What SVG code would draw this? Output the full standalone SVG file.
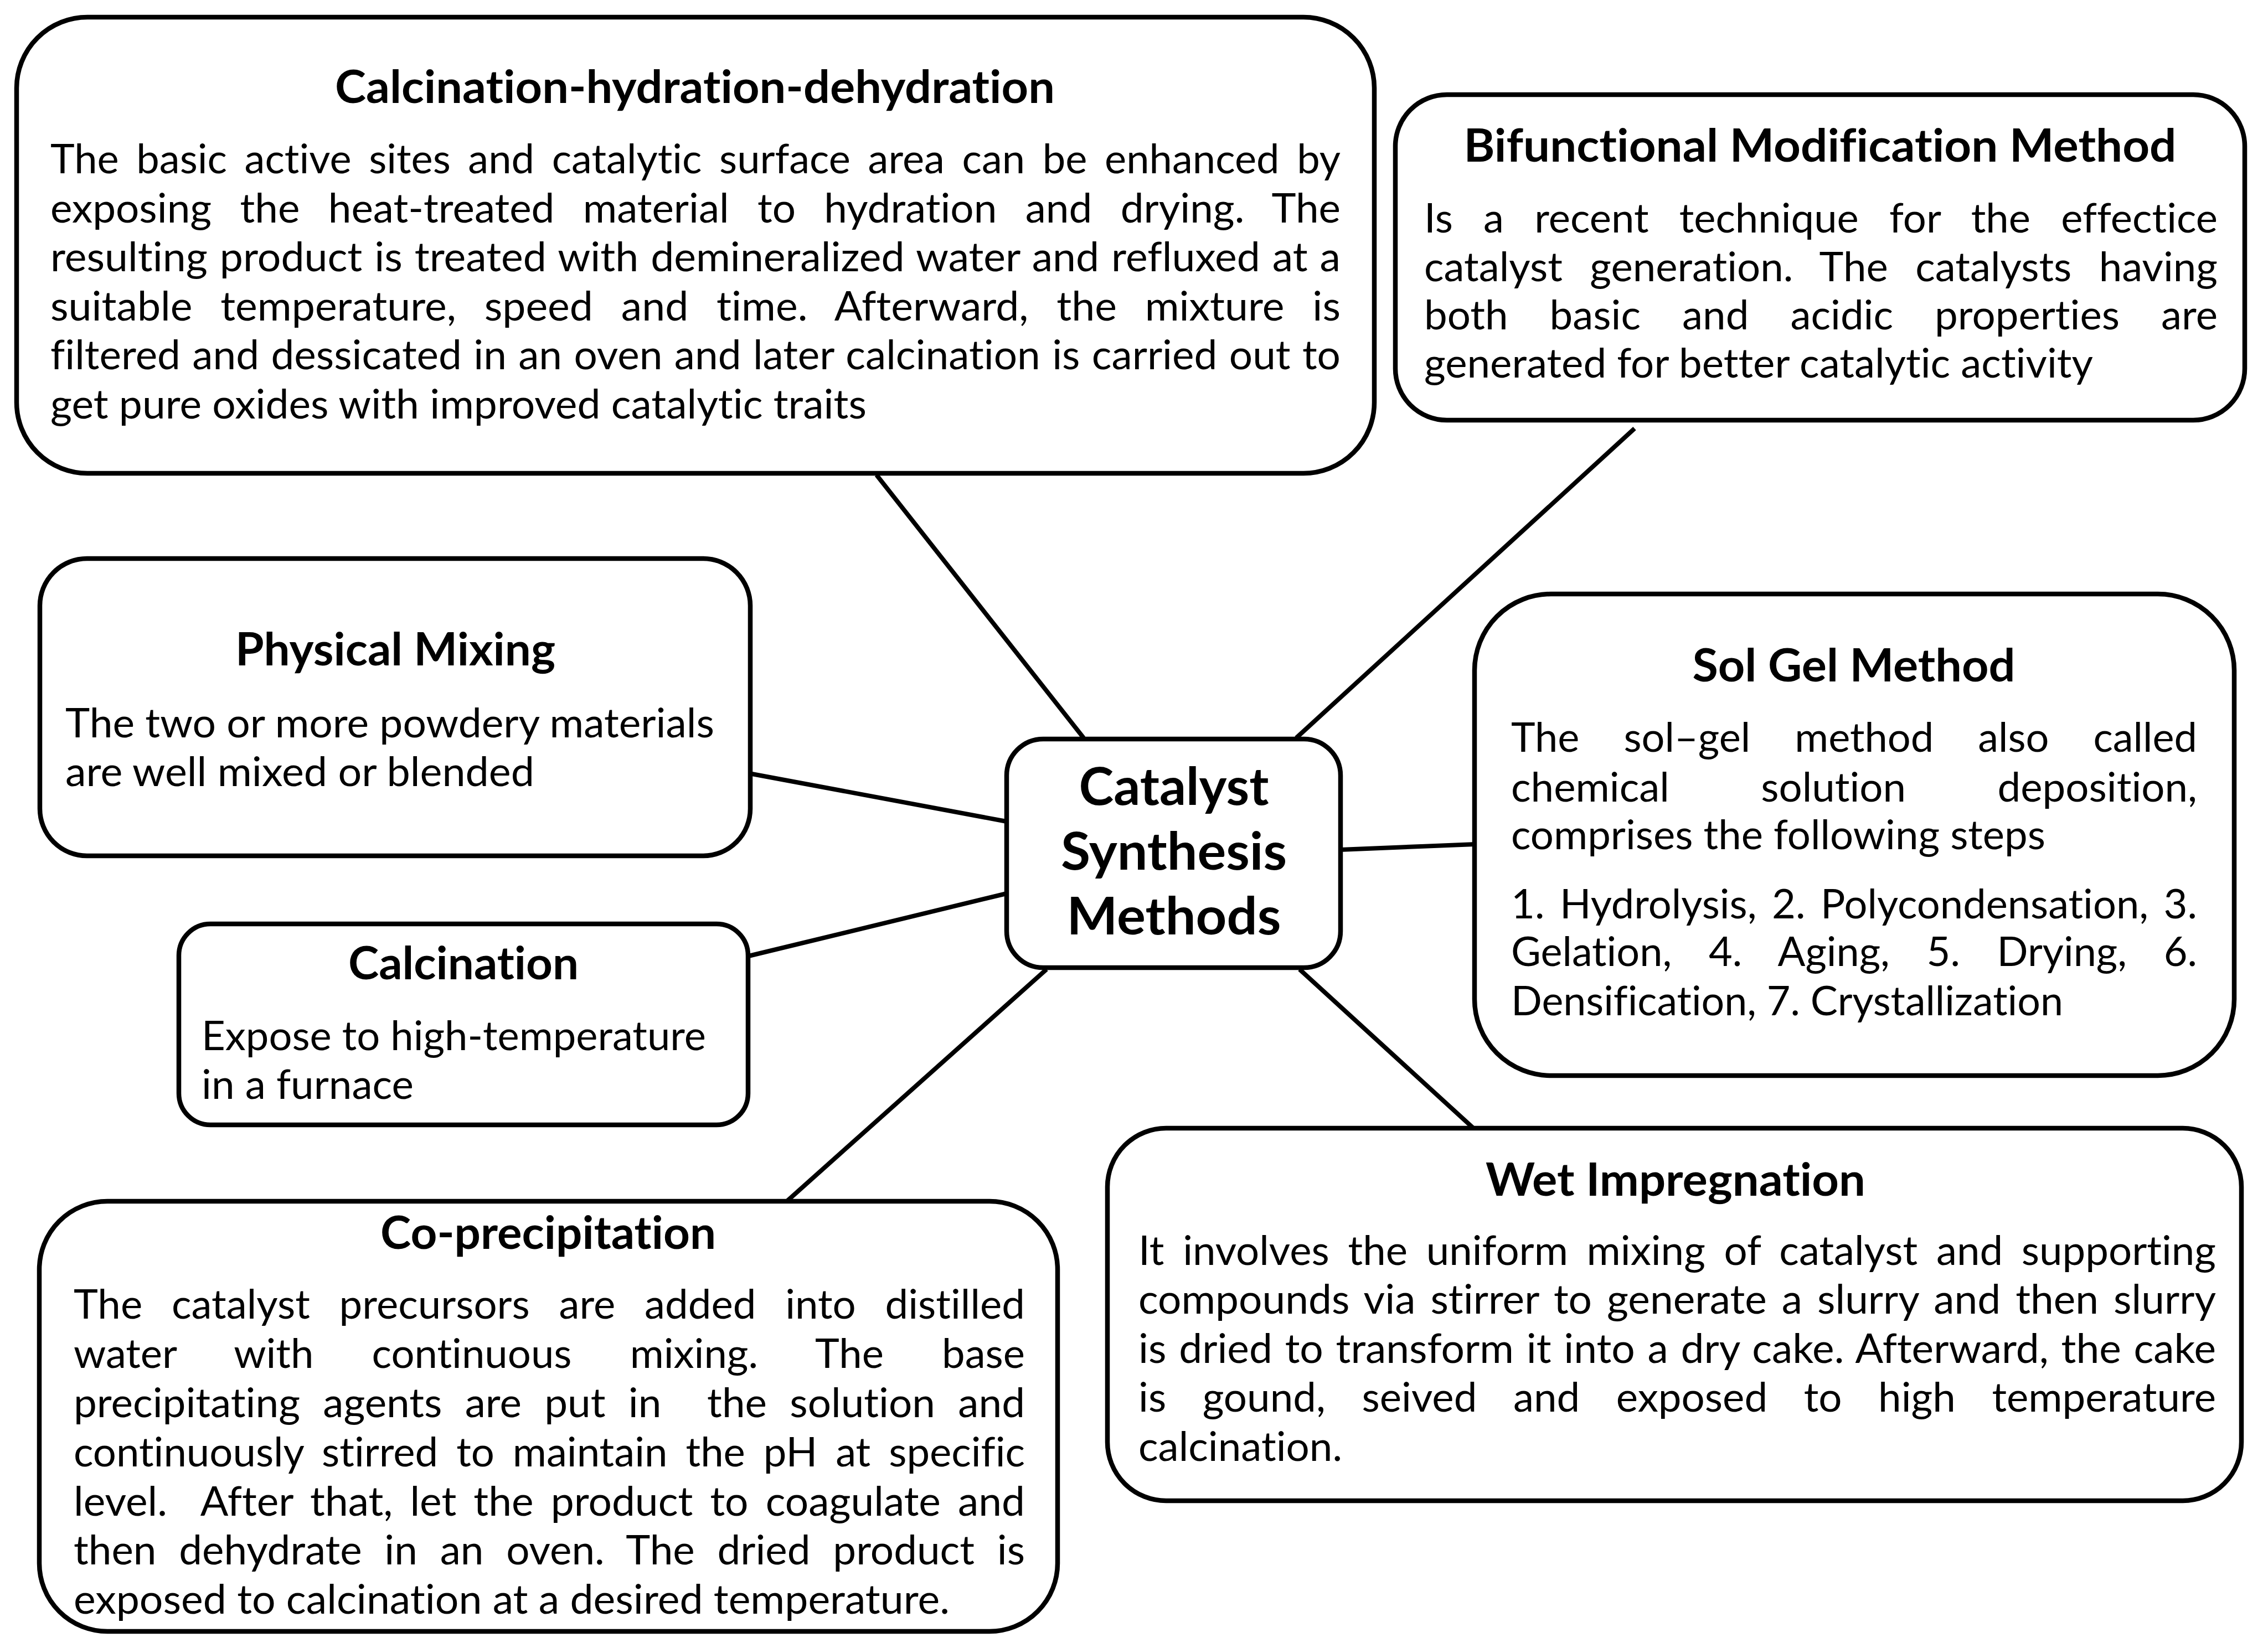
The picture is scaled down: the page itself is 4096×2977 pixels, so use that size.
<svg xmlns="http://www.w3.org/2000/svg" width="4096" height="2977" viewBox="0 0 4096 2977">
<style>
.box{fill:#fff;stroke:#000;stroke-width:8.5}
.conn line{stroke:#000;stroke-width:8}
text{font-family:Lato,"Liberation Sans",sans-serif;fill:#000;font-variant-ligatures:none;font-feature-settings:"liga" 0,"clig" 0,"dlig" 0}
.t{font-weight:700;font-size:82px;text-anchor:middle}
.b{font-size:73px}
.c{font-weight:700;font-size:94px;text-anchor:middle}
</style>
<rect width="4096" height="2977" fill="#fff"/>
<g id="connectors" class="conn">
<line x1="1583" y1="858" x2="1957" y2="1333"/>
<line x1="2952" y1="774" x2="2341" y2="1333"/>
<line x1="1358" y1="1398" x2="1818" y2="1484"/>
<line x1="1352" y1="1727" x2="1818" y2="1614"/>
<line x1="2420" y1="1535" x2="2665" y2="1525"/>
<line x1="2347" y1="1751" x2="2661" y2="2038"/>
<line x1="1890" y1="1751" x2="1421" y2="2170"/>
</g>
<g id="node-calcination-hydration-dehydration">
<rect class="box" x="30" y="31" width="2452" height="824" rx="128"/>
<text class="t" x="1255" y="186" textLength="1300" lengthAdjust="spacingAndGlyphs">Calcination-hydration-dehydration</text>
<text class="b" x="91" y="313" word-spacing="12.4" textLength="2330" lengthAdjust="spacingAndGlyphs">The basic active sites and catalytic surface area can be enhanced by</text>
<text class="b" x="91" y="402" word-spacing="31.5" textLength="2330" lengthAdjust="spacingAndGlyphs">exposing the heat-treated material to hydration and drying. The</text>
<text class="b" x="91" y="490" word-spacing="2.6" textLength="2330" lengthAdjust="spacingAndGlyphs">resulting product is treated with demineralized water and refluxed at a</text>
<text class="b" x="91" y="579" word-spacing="30.6" textLength="2330" lengthAdjust="spacingAndGlyphs">suitable temperature, speed and time. Afterward, the mixture is</text>
<text class="b" x="91" y="667" word-spacing="2.1" textLength="2330" lengthAdjust="spacingAndGlyphs">filtered and dessicated in an oven and later calcination is carried out to</text>
<text class="b" x="91" y="756" textLength="1474" lengthAdjust="spacingAndGlyphs">get pure oxides with improved catalytic traits</text>
</g>
<g id="node-bifunctional">
<rect class="box" x="2520" y="171" width="1534" height="588" rx="93"/>
<text class="t" x="3287" y="292" textLength="1287" lengthAdjust="spacingAndGlyphs">Bifunctional Modification Method</text>
<text class="b" x="2572" y="420" word-spacing="35.6" textLength="1433" lengthAdjust="spacingAndGlyphs">Is a recent technique for the effectice</text>
<text class="b" x="2572" y="508" word-spacing="29.8" textLength="1433" lengthAdjust="spacingAndGlyphs">catalyst generation. The catalysts having</text>
<text class="b" x="2572" y="595" word-spacing="54.9" textLength="1433" lengthAdjust="spacingAndGlyphs">both basic and acidic properties are</text>
<text class="b" x="2572" y="682" textLength="1208" lengthAdjust="spacingAndGlyphs">generated for better catalytic activity</text>
</g>
<g id="node-physical-mixing">
<rect class="box" x="72" y="1009" width="1283" height="537" rx="85"/>
<text class="t" x="714" y="1202" textLength="578" lengthAdjust="spacingAndGlyphs">Physical Mixing</text>
<text class="b" x="118" y="1332" textLength="1172" lengthAdjust="spacingAndGlyphs">The two or more powdery materials</text>
<text class="b" x="118" y="1420" textLength="847" lengthAdjust="spacingAndGlyphs">are well mixed or blended</text>
</g>
<g id="node-calcination">
<rect class="box" x="323" y="1669" width="1028" height="363" rx="57"/>
<text class="t" x="837" y="1769" textLength="416" lengthAdjust="spacingAndGlyphs">Calcination</text>
<text class="b" x="364" y="1897" textLength="911" lengthAdjust="spacingAndGlyphs">Expose to high-temperature</text>
<text class="b" x="364" y="1985" textLength="383" lengthAdjust="spacingAndGlyphs">in a furnace</text>
</g>
<g id="node-center">
<rect class="box" x="1818" y="1335" width="603" height="413" rx="66"/>
<text class="c" x="2120" y="1454" textLength="343" lengthAdjust="spacingAndGlyphs">Catalyst</text>
<text class="c" x="2120" y="1571" textLength="408" lengthAdjust="spacingAndGlyphs">Synthesis</text>
<text class="c" x="2120" y="1688" textLength="387" lengthAdjust="spacingAndGlyphs">Methods</text>
</g>
<g id="node-sol-gel">
<rect class="box" x="2663" y="1073" width="1372" height="870" rx="138"/>
<text class="t" x="3348" y="1231" textLength="583" lengthAdjust="spacingAndGlyphs">Sol Gel Method</text>
<text class="b" x="2729" y="1358" word-spacing="60.2" textLength="1239" lengthAdjust="spacingAndGlyphs">The sol–gel method also called</text>
<text class="b" x="2729" y="1448" word-spacing="143.3" textLength="1239" lengthAdjust="spacingAndGlyphs">chemical solution deposition,</text>
<text class="b" x="2729" y="1534" textLength="965" lengthAdjust="spacingAndGlyphs">comprises the following steps</text>
<text class="b" x="2729" y="1659" word-spacing="8.4" textLength="1239" lengthAdjust="spacingAndGlyphs">1. Hydrolysis, 2. Polycondensation, 3.</text>
<text class="b" x="2729" y="1745" word-spacing="47.3" textLength="1239" lengthAdjust="spacingAndGlyphs">Gelation, 4. Aging, 5. Drying, 6.</text>
<text class="b" x="2729" y="1834" textLength="997" lengthAdjust="spacingAndGlyphs">Densification, 7. Crystallization</text>
</g>
<g id="node-wet-impregnation">
<rect class="box" x="2000" y="2038" width="2048" height="673" rx="106"/>
<text class="t" x="3026" y="2160" textLength="686" lengthAdjust="spacingAndGlyphs">Wet Impregnation</text>
<text class="b" x="2056" y="2285" word-spacing="14.4" textLength="1946" lengthAdjust="spacingAndGlyphs">It involves the uniform mixing of catalyst and supporting</text>
<text class="b" x="2056" y="2373" word-spacing="7.7" textLength="1946" lengthAdjust="spacingAndGlyphs">compounds via stirrer to generate a slurry and then slurry</text>
<text class="b" x="2056" y="2462" word-spacing="3.5" textLength="1946" lengthAdjust="spacingAndGlyphs">is dried to transform it into a dry cake. Afterward, the cake</text>
<text class="b" x="2056" y="2550" word-spacing="45.5" textLength="1946" lengthAdjust="spacingAndGlyphs">is gound, seived and exposed to high temperature</text>
<text class="b" x="2056" y="2639" textLength="368" lengthAdjust="spacingAndGlyphs">calcination.</text>
</g>
<g id="node-co-precipitation">
<rect class="box" x="71" y="2170" width="1839" height="777" rx="123"/>
<text class="t" x="990" y="2256" textLength="606" lengthAdjust="spacingAndGlyphs">Co-precipitation</text>
<text class="b" x="133" y="2382" word-spacing="33" textLength="1718" lengthAdjust="spacingAndGlyphs">The catalyst precursors are added into distilled</text>
<text class="b" x="133" y="2471" word-spacing="84.7" textLength="1718" lengthAdjust="spacingAndGlyphs">water with continuous mixing. The base</text>
<text class="b" x="133" y="2560" word-spacing="21.7" textLength="1718" lengthAdjust="spacingAndGlyphs">precipitating agents are put in &#160;the solution and</text>
<text class="b" x="133" y="2649" word-spacing="13.7" textLength="1718" lengthAdjust="spacingAndGlyphs">continuously stirred to maintain the pH at specific</text>
<text class="b" x="133" y="2738" word-spacing="11.6" textLength="1718" lengthAdjust="spacingAndGlyphs">level. &#160;After that, let the product to coagulate and</text>
<text class="b" x="133" y="2826" word-spacing="21.2" textLength="1718" lengthAdjust="spacingAndGlyphs">then dehydrate in an oven. The dried product is</text>
<text class="b" x="133" y="2915" textLength="1582" lengthAdjust="spacingAndGlyphs">exposed to calcination at a desired temperature.</text>
</g>
</svg>
